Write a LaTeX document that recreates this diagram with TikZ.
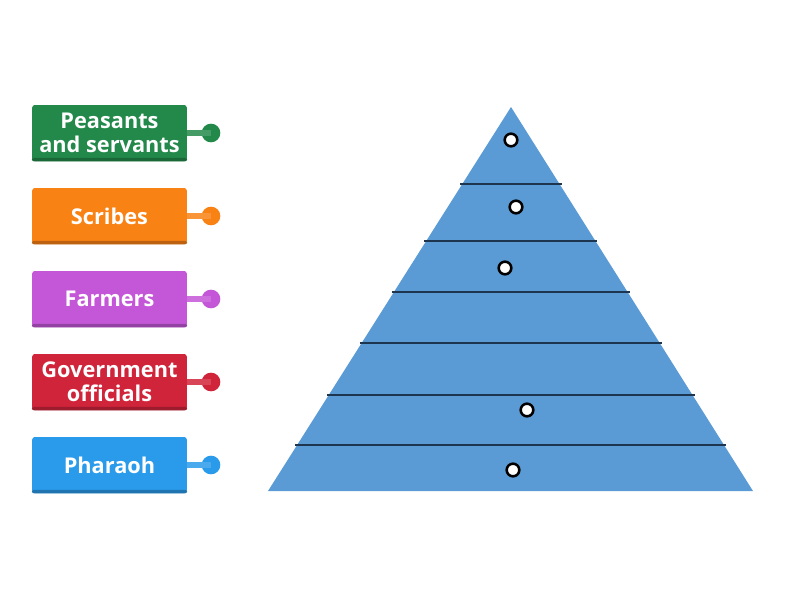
\documentclass[tikz,border=0pt]{standalone}
\usepackage{fontspec}
\setmainfont{Open Sans}
\definecolor{peasant}{HTML}{23894B}
\definecolor{scribe}{HTML}{F98214}
\definecolor{farmer}{HTML}{C457D8}
\definecolor{official}{HTML}{D0243A}
\definecolor{pharaoh}{HTML}{2A9BEA}
\definecolor{stone}{HTML}{5B9BD5}
\definecolor{layer}{HTML}{1E3550}
\tikzset{
	label box/.style={rectangle, rounded corners=2pt, minimum width=116pt, minimum height=42pt,
		inner sep=1pt, align=center, text=white, font=\fontsize{16.3}{18}\selectfont\bfseries},
	pin dot/.style={circle, inner sep=0pt, minimum size=14pt},
	drop dot/.style={circle, draw=black, fill=white, line width=1.9pt, inner sep=0pt, minimum size=9.5pt}
}
\begin{document}
\begin{tikzpicture}[x=0.75pt,y=-0.75pt]
	\useasboundingbox (0,0) rectangle (800,600);

	% pyramid and its layers
	\fill[stone] (511,107) -- (753,491) -- (268,491) -- cycle;
	\foreach \y in {184,241,292,343,395,445}
		\draw[layer, line width=1.6pt] ({511-(\y-107)/384*243-2},\y) -- ({511+(\y-107)/384*242+2},\y);

	% drop targets
	\node[drop dot] (t1) at (511,140) {};
	\node[drop dot] (t2) at (516,207) {};
	\node[drop dot] (t3) at (505,268) {};
	\node[drop dot] (t4) at (527,410) {};
	\node[drop dot] (t5) at (513,470) {};

	% label boxes with their pins
	\foreach \i/\y/\c/\t in {1/133/peasant/{Peasants\\and servants}, 2/216/scribe/Scribes,
			3/299/farmer/Farmers, 4/382/official/{Government\\officials}, 5/465/pharaoh/Pharaoh}{
		\node[pin dot, fill=\c] (p\i) at (211,\y) {};
		\draw[\c!85!white, line width=4.5pt] (187,\y) -- (p\i.center);
		\node[label box, fill=\c] (b\i) at (109.5,\y) {\t};
		\fill[\c!75!black, rounded corners=1.5pt] (b\i.south west) rectangle ([yshift=2.5pt]b\i.south east);
	}
\end{tikzpicture}
\end{document}
